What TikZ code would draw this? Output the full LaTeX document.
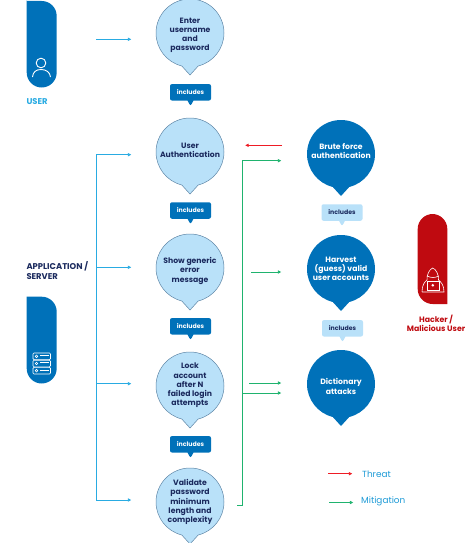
\documentclass[tikz,border=0pt]{standalone}
\usepackage{fontspec}
\setmainfont{Poppins}
\usetikzlibrary{arrows.meta,shapes.callouts}
\definecolor{navy}{HTML}{1B2A5E}
\definecolor{midblue}{HTML}{0071B9}
\definecolor{paleblue}{HTML}{B9E1F9}
\definecolor{skyline}{HTML}{29ABE2}
\definecolor{threatred}{HTML}{EE1C25}
\definecolor{mitigreen}{HTML}{1FB36E}
\definecolor{hackerred}{HTML}{BF0A10}
\definecolor{bubbleline}{HTML}{5F86A6}
\newcommand{\shim}[2]{\rule[-#2]{0pt}{\dimexpr#1+#2\relax}}
\tikzset{
  bubble/.style={ellipse callout,minimum width=68pt,minimum height=68pt,inner sep=-12pt,outer sep=0pt,
    callout relative pointer={(0pt,-8pt)},callout pointer arc=28,align=center,
    font=\bfseries\fontsize{7.7}{9.3}\selectfont},
  lightbubble/.style={bubble,fill=paleblue,draw=bubbleline,line width=0.5pt,text=navy},
  darkbubble/.style={bubble,fill=midblue,text=white},
  tag/.style={rectangle callout,minimum width=41pt,minimum height=16.5pt,inner sep=0pt,outer sep=0pt,
    callout relative pointer={(0pt,-5.5pt)},callout pointer width=6pt,rounded corners=2pt,
    font=\bfseries\fontsize{6.2}{8}\selectfont},
  darktag/.style={tag,fill=midblue,text=white},
  lighttag/.style={tag,fill=paleblue,text=navy},
  caption/.style={anchor=west,align=left,font=\bfseries\fontsize{8.4}{10}\selectfont},
  link/.style={-{Latex[length=3.6pt,width=3.8pt]},line width=1pt},
  icon/.style={draw=white,line width=0.6pt}
}
\begin{document}
\begin{tikzpicture}[x=1pt,y=-1pt]
  \useasboundingbox (0,0) rectangle (474,543);
  % actors
  \fill[midblue] (26.7,0) [sharp corners] -- (26.7,72.5) [rounded corners=15pt] -- (26.7,87.5) -- (56.7,87.5) -- (56.7,1) [sharp corners] -- (41.7,1) -- (26.7,1) -- cycle;
  \fill[midblue] (26.7,296.7) [rounded corners=15pt] -- (26.7,383.5) -- (56.7,383.5) -- (56.7,296.7) [sharp corners] -- cycle;
  \fill[hackerred] (447.3,304) [rounded corners=15pt] -- (417.7,304) -- (417.7,214) -- (447.3,214) [sharp corners] -- cycle;
  % person
  \draw[icon,line width=0.9pt] (41,63) circle (4.8);
  \draw[icon,line width=0.9pt] (32.5,77) .. controls (33,72) and (36,69.5) .. (41,69.5) .. controls (46,69.5) and (50,72) .. (50.5,77);
  % server
  \foreach \y in {353,360.2,367.4}{
    \draw[icon,rounded corners=1pt] (33,\y) rectangle (50.5,\y+6.6);
    \draw[icon] (36.5,\y+3.3) circle (1.3);
    \draw[icon] (40,\y+2.4) -- (49,\y+2.4);
  }
  % hacker
  \draw[icon] (422,292) -- (444,292) .. controls (444,285) and (441,282) .. (438.5,280) .. controls (439,275) and (436,269) .. (432.7,268) .. controls (429.5,269) and (426.5,275) .. (427,280) .. controls (424.5,282) and (422,285) .. (422,292);
  \draw[icon] (427,276) .. controls (431,278) and (435,278) .. (438.7,276);
  \draw[icon,fill=hackerred] (426.8,281) rectangle (438.8,290);
  \fill[white] (432.8,285.3) circle (1.4);

  \begin{scope}[every node/.style={lightbubble}]
    \node (enter) at (190,33) {\shim{10pt}{0pt}Enter\\username\\and\\password};
    \node (auth) at (190,152) {User\\Authentication\shim{0pt}{4pt}};
    \node (generic) at (190,268) {\shim{12pt}{0pt}Show generic\\error\\message};
    \node (lock) at (190,386) {Lock\\account\\after N\\failed login\\attempts\shim{0pt}{3pt}};
    \node (validate) at (190,502) {Validate\\password\\minimum\\length and\\complexity};
  \end{scope}
  \begin{scope}[every node/.style={darkbubble}]
    \node (brute) at (341,154) {Brute force\\authentication\shim{0pt}{5.5pt}};
    \node (harvest) at (341,269) {Harvest\\(guess) valid\\user accounts};
    \node (dictionary) at (341,384) {\shim{11pt}{0pt}Dictionary\\attacks};
  \end{scope}
  \begin{scope}[every node/.style={darktag}]
    \node (inc1) at (190.5,92.3) {includes};
    \node (inc2) at (190.5,210.5) {includes};
    \node (inc3) at (190.5,326.3) {includes};
    \node (inc4) at (190.5,444.3) {includes};
  \end{scope}
  \begin{scope}[every node/.style={lighttag}]
    \node (inc5) at (342,212.5) {includes};
    \node (inc6) at (342.5,328.3) {includes};
  \end{scope}

  \node[caption,text=skyline] (usercap) at (23,102) {USER};
  \node[caption,text=navy] (servercap) at (23,271) {APPLICATION /\\SERVER};
  \node[caption,anchor=center,align=center,text=hackerred,font=\bfseries\fontsize{7.8}{9.3}\selectfont] (hackercap) at (436,323.5) {Hacker /\\Malicious User};

  % free ends of the connectors
  \coordinate (userfrom) at (96,39.3);
  \coordinate (userto) at (131.5,39.3);
  \coordinate (trunktop) at (96,154.7);
  \coordinate (trunkmid1) at (96,267.3);
  \coordinate (trunkmid2) at (96,383.7);
  \coordinate (trunkend) at (96,500);
  \coordinate (toauth) at (131.5,154.7);
  \coordinate (togeneric) at (131.5,267.3);
  \coordinate (tolock) at (131.5,383.7);
  \coordinate (tovalidate) at (131.5,500);
  \coordinate (threatfrom) at (282,145.3);
  \coordinate (threatto) at (245,145.3);
  \coordinate (greenfoot) at (237,505.7);
  \coordinate (greenbase) at (242,505.7);
  \coordinate (greentop) at (242,160.7);
  \coordinate (greenlow) at (242,393);
  \coordinate (tobrute) at (281.5,160.7);
  \coordinate (harvestfrom) at (251,272);
  \coordinate (toharvest) at (281.5,272);
  \coordinate (dictfrom) at (249,383);
  \coordinate (todict) at (281.5,383);
  \coordinate (todictlow) at (281.5,393);
  \coordinate (legredfrom) at (328,473.7);
  \coordinate (legredto) at (352.5,473.7);
  \coordinate (leggreenfrom) at (329,502.5);
  \coordinate (leggreento) at (353.5,502.5);

  \begin{scope}[skyline]
    \draw[link] (userfrom) -- (userto);
    \draw[link] (trunkmid1) -- (togeneric);
    \draw[link] (trunkmid2) -- (tolock);
    \draw[link] (trunkend) -- (tovalidate);
    \draw[link] (trunkend) -- (trunktop) -- (toauth);
  \end{scope}
  \draw[link,threatred,line width=1.2pt] (threatfrom) -- (threatto);
  \begin{scope}[mitigreen]
    \draw[link] (greenfoot) -- (greenbase) -- (greentop) -- (tobrute);
    \draw[link] (harvestfrom) -- (toharvest);
    \draw[link] (dictfrom) -- (todict);
    \draw[link] (greenlow) -- (todictlow);
  \end{scope}

  % legend
  \draw[link,threatred,line width=1.2pt] (legredfrom) -- (legredto);
  \draw[link,mitigreen] (leggreenfrom) -- (leggreento);
  \node[anchor=west,inner sep=0pt,text=skyline!70!midblue,font=\fontsize{8.9}{10}\selectfont] (threat) at (362,474.3) {Threat};
  \node[anchor=west,inner sep=0pt,text=skyline!70!midblue,font=\fontsize{8.9}{10}\selectfont] (mitigation) at (361,501.7) {Mitigation};
\end{tikzpicture}
\end{document}
